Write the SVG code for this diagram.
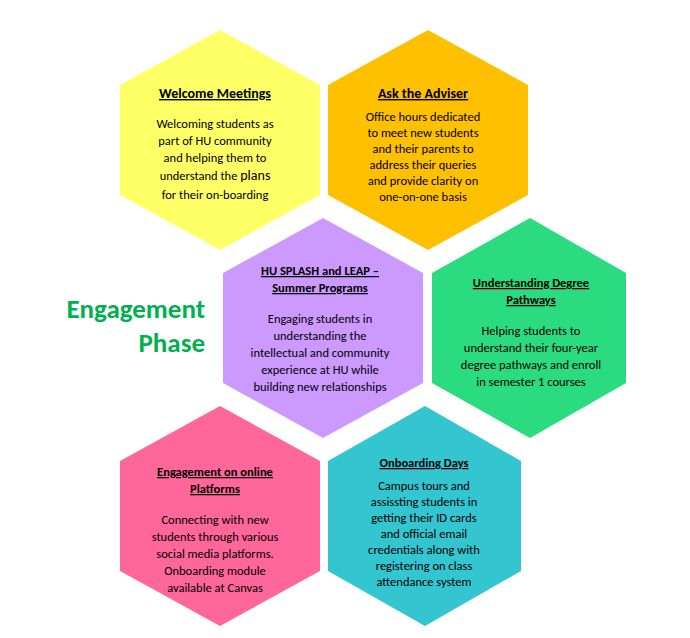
<svg xmlns="http://www.w3.org/2000/svg" width="690" height="638" viewBox="0 0 690 638">
<style>
text{font-family:"Carlito","Liberation Sans",sans-serif;font-size:12.5px;fill:#000;text-anchor:middle}
.t{font-weight:bold;text-decoration:underline}
.b{font-size:14px}
.ep{font-size:27px;font-weight:bold;fill:#00B050;text-anchor:end}
</style>
<rect width="690" height="638" fill="#fff"/>
<g id="welcome">
<polygon points="220,30 320,85 320,195 220,250 120,195 120,85" fill="#FFFF66"/>
<text x="215" y="98" class="t b">Welcome Meetings</text>
<text x="215" y="128">Welcoming students as</text>
<text x="215" y="145">part of HU community</text>
<text x="215" y="162">and helping them to</text>
<text x="215" y="180">understand the <tspan font-size="14">plans</tspan></text>
<text x="215" y="199" font-size="14">for their on-boarding</text>
</g>
<g id="adviser">
<polygon points="428,30 528,85 528,195 428,250 328,195 328,85" fill="#FFC000"/>
<text x="423" y="98" class="t b">Ask the Adviser</text>
<text x="423" y="121">Office hours dedicated</text>
<text x="423" y="137">to meet new students</text>
<text x="423" y="153">and their parents to</text>
<text x="423" y="169">address their queries</text>
<text x="423" y="185">and provide clarity on</text>
<text x="423" y="201">one-on-one basis</text>
</g>
<g id="splash">
<polygon points="323,218 423,273 423,383 323,438 223,383 223,273" fill="#CC99FF"/>
<text x="320" y="275" class="t">HU SPLASH and LEAP –</text>
<text x="320" y="292" class="t">Summer Programs</text>
<text x="320" y="323">Engaging students in</text>
<text x="320" y="340">understanding the</text>
<text x="320" y="357">intellectual and community</text>
<text x="320" y="374">experience at HU while</text>
<text x="320" y="391">building new relationships</text>
</g>
<g id="pathways">
<polygon points="530,218 626,273 626,383 530,438 432,383 432,273" fill="#2BDB80"/>
<text x="531" y="287" class="t">Understanding Degree</text>
<text x="531" y="304" class="t">Pathways</text>
<text x="531" y="335">Helping students to</text>
<text x="531" y="352">understand their four-year</text>
<text x="531" y="369">degree pathways and enroll</text>
<text x="531" y="386">in semester 1 courses</text>
</g>
<g id="online">
<polygon points="220,406 320,461 320,571 220,626 120,571 120,461" fill="#FF6699"/>
<text x="215" y="476" class="t">Engagement on online</text>
<text x="215" y="493" class="t">Platforms</text>
<text x="215" y="524">Connecting with new</text>
<text x="215" y="541">students through various</text>
<text x="215" y="558">social media platforms.</text>
<text x="215" y="575">Onboarding module</text>
<text x="215" y="592">available at Canvas</text>
</g>
<g id="onboarding">
<polygon points="425,406 521,461 521,571 425,626 328,571 328,461" fill="#33C5D0"/>
<text x="424" y="467" class="t">Onboarding Days</text>
<text x="424" y="490">Campus tours and</text>
<text x="424" y="506">assissting students in</text>
<text x="424" y="522">getting their ID cards</text>
<text x="424" y="538">and official email</text>
<text x="424" y="554">credentials along with</text>
<text x="424" y="570">registering on class</text>
<text x="424" y="586">attendance system</text>
</g>
<g id="title">
<text x="205" y="318" class="ep">Engagement</text>
<text x="205" y="352" class="ep">Phase</text>
</g>
<g id="connectors"/>
</svg>
